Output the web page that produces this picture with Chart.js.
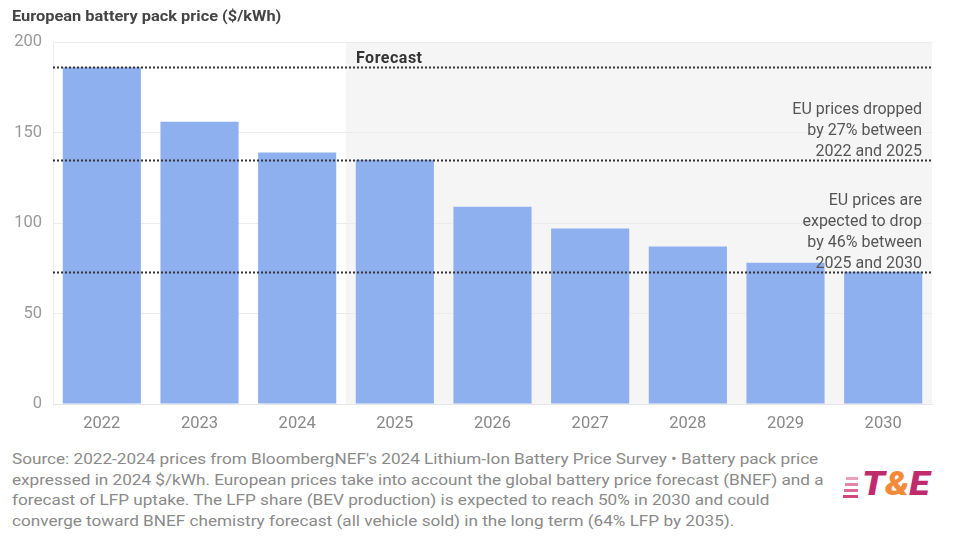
<!DOCTYPE html>
<html>
<head>
<meta charset="utf-8">
<script src="https://cdn.jsdelivr.net/npm/chart.js@4"></script>
<style>
  body { margin: 0; background: #fff; font-family: Roboto, "Noto Sans", sans-serif; }
  #wrap { position: relative; width: 955px; height: 545px; overflow: hidden; }
  #title { position: absolute; left: 12px; top: 8px; font-size: 14.5px; font-weight: bold; color: #444; white-space: nowrap; transform: scaleX(1.13); transform-origin: left top; }
  #chartBox { position: absolute; left: 0; top: 0; width: 955px; height: 440px; }
  #note { position: absolute; left: 12px; top: 449px; font-size: 15.5px; line-height: 20.7px; color: #8a8a8a; white-space: nowrap; transform: scaleX(1.106); transform-origin: left top; }
  #logo { position: absolute; left: 843px; top: 468px; width: 110px; height: 36px; }
  #logo .bars { position: absolute; left: 0; top: 9px; }
  #logo .bars div { height: 3px; margin-bottom: 3px; background: #d2457e; margin-left: auto; }
  #logo .txt { position: absolute; left: 19px; top: -5px; font-size: 34px; font-weight: 900; font-style: italic; color: #c02b6e; white-space: nowrap; transform: scaleX(1.1); transform-origin: left top; }
  #logo .amp { color: #f28a3a; }
</style>
</head>
<body>
<div id="wrap">
  <div id="chartBox"><canvas id="chart"></canvas></div>
  <div id="title">European battery pack price ($/kWh)</div>
  <div id="note">Source: 2022-2024 prices from BloombergNEF's 2024 Lithium-Ion Battery Price Survey • Battery pack price<br>expressed in 2024 $/kWh. European prices take into account the global battery price forecast (BNEF) and a<br>forecast of LFP uptake. The LFP share (BEV production) is expected to reach 50% in 2030 and could<br>converge toward BNEF chemistry forecast (all vehicle sold) in the long term (64% LFP by 2035).</div>
  <div id="logo">
    <div class="bars" style="width:15px">
      <div style="width:12px;opacity:.5"></div>
      <div style="width:13px;opacity:.65"></div>
      <div style="width:14px;opacity:.8"></div>
      <div style="width:15px"></div>
    </div>
    <div class="txt">T<span class="amp">&amp;</span>E</div>
  </div>
</div>
<script>
const years = ["2022", "2023", "2024", "2025", "2026", "2027", "2028", "2029", "2030"];
const prices = [186, 156, 139, 135, 109, 97, 87, 78, 73];
const yTicks = [0, 50, 100, 150, 200];
const refLines = [186, 135, 73];
const forecastStart = 3; // index of 2025
const notes = [
  { value: 135, lines: ["EU prices dropped", "by 27% between", "2022 and 2025"] },
  { value: 73, lines: ["EU prices are", "expected to drop", "by 46% between", "2025 and 2030"] },
];

let ctx = document.querySelector("#chart");

// grey band behind the forecast years
const forecastBand = {
  id: "forecastBand",
  beforeDraw(chart) {
    const { ctx, chartArea, scales } = chart;
    const x0 = (scales.x.getPixelForValue(forecastStart - 1) + scales.x.getPixelForValue(forecastStart)) / 2;
    ctx.save();
    ctx.fillStyle = "#f5f5f5";
    ctx.fillRect(x0, chartArea.top, chartArea.right - x0, chartArea.bottom - chartArea.top);
    ctx.restore();
  },
};

// dotted reference lines, "Forecast" label and the notes
const refLayer = {
  id: "refLayer",
  afterDatasetsDraw(chart) {
    const { ctx, chartArea, scales } = chart;
    ctx.save();
    ctx.strokeStyle = "#333";
    ctx.lineWidth = 2;
    ctx.setLineDash([2, 2]);
    refLines.forEach((v) => {
      const y = Math.round(scales.y.getPixelForValue(v)) + 0.5;
      ctx.beginPath();
      ctx.moveTo(chartArea.left, y);
      ctx.lineTo(chartArea.right, y);
      ctx.stroke();
    });
    ctx.setLineDash([]);

    const x0 = (scales.x.getPixelForValue(forecastStart - 1) + scales.x.getPixelForValue(forecastStart)) / 2;
    ctx.fillStyle = "#333";
    ctx.font = "bold 16px Roboto";
    ctx.letterSpacing = "0.5px";
    ctx.textAlign = "left";
    ctx.textBaseline = "alphabetic";
    ctx.fillText("Forecast", x0 + 10, scales.y.getPixelForValue(refLines[0]) - 4);
    ctx.letterSpacing = "0px";

    ctx.fillStyle = "#555";
    ctx.font = "16px Roboto";
    ctx.textAlign = "right";
    notes.forEach((n) => {
      const yBase = scales.y.getPixelForValue(n.value) - 4;
      n.lines.forEach((line, i) => {
        ctx.fillText(line, chartArea.right - 10, yBase - (n.lines.length - 1 - i) * 21);
      });
    });
    ctx.restore();
  },
};

let chart = new Chart(ctx, {
  type: "bar",
  data: {
    labels: years,
    datasets: [
      {
        label: "Price",
        data: prices,
        backgroundColor: "#8fb0ef",
        barPercentage: 0.8,
        categoryPercentage: 1,
      },
    ],
  },
  options: {
    responsive: true,
    maintainAspectRatio: false,
    animation: false,
    layout: {
      padding: { top: 42, right: 23, bottom: 0, left: 0 },
    },
    plugins: {
      legend: { display: false },
      tooltip: { enabled: false },
    },
    scales: {
      x: {
        grid: { display: false },
        border: { color: "#e6e6e6" },
        ticks: { color: "#888", font: { family: "Roboto", size: 16.5 }, padding: 2 },
        afterFit(scale) {
          scale.height = 36;
        },
      },
      y: {
        min: 0,
        max: 200,
        afterBuildTicks(scale) {
          scale.ticks = yTicks.map((v) => ({ value: v }));
        },
        grid: { color: "#ececec", drawTicks: false },
        border: { color: "#ececec" },
        ticks: { color: "#999", font: { family: "Roboto", size: 16.5 }, padding: 11 },
        afterFit(scale) {
          scale.width = 53;
        },
      },
    },
  },
  plugins: [forecastBand, refLayer],
});
</script>
</body>
</html>
